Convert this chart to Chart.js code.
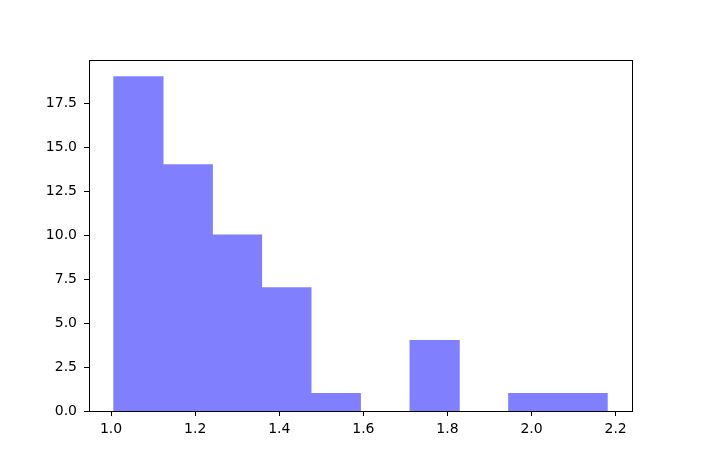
<!DOCTYPE html>
<html>
<head>
<meta charset="utf-8">
<script src="https://cdn.jsdelivr.net/npm/chart.js@4/dist/chart.umd.min.js"></script>
<style>
  html, body { margin: 0; padding: 0; background: #fff; }
  #wrap { width: 706px; height: 474px; }
</style>
</head>
<body>
<div id="wrap"><canvas id="hist" width="706" height="474"></canvas></div>
<script>
// histogram bin edges and counts
const binEdges = [1.006, 1.124, 1.241, 1.358, 1.476, 1.593, 1.711, 1.828, 1.945, 2.063, 2.180];
const counts = [19, 14, 10, 7, 1, 0, 4, 0, 1, 1];
const xTicks = [1.0, 1.2, 1.4, 1.6, 1.8, 2.0, 2.2];
const yTicks = [0, 2.5, 5, 7.5, 10, 12.5, 15, 17.5];

const xMin = 0.9475, xMax = 2.2389;
const yMax = 19.95;

// empty bins get no bar at all (null), like matplotlib
const points = counts.map((c, i) => ({ x: (binEdges[i] + binEdges[i + 1]) / 2, y: c || null }));

// matplotlib draws a full box round the axes
const frame = {
  id: 'frame',
  afterDraw(chart) {
    const { ctx, chartArea: a } = chart;
    ctx.save();
    ctx.strokeStyle = '#000';
    ctx.lineWidth = 1;
    ctx.strokeRect(Math.round(a.left) + 0.5, Math.round(a.top) + 0.5,
      Math.round(a.right - a.left), Math.round(a.bottom - a.top));
    ctx.restore();
  }
};

const tickFont = { family: 'DejaVu Sans', size: 14 };

new Chart(document.getElementById('hist').getContext('2d'), {
  type: 'bar',
  data: {
    datasets: [{
      data: points,
      backgroundColor: '#8080ff',
      borderWidth: 0,
      inflateAmount: 0.5,
      barPercentage: 1,
      categoryPercentage: 1
    }]
  },
  options: {
    responsive: false,
    animation: false,
    devicePixelRatio: 1,
    layout: { padding: { left: 0, top: 60, right: 74, bottom: 10 } },
    plugins: { legend: { display: false }, tooltip: { enabled: false } },
    scales: {
      x: {
        type: 'linear',
        min: xMin,
        max: xMax,
        offset: false,
        grid: { offset: false, drawOnChartArea: false, tickLength: 5, tickColor: '#000', lineWidth: 1 },
        border: { display: false },
        afterBuildTicks(scale) { scale.ticks = xTicks.map(v => ({ value: v })); },
        afterFit(scale) { scale.height = 474 - 411 - 10; },
        ticks: {
          color: '#000',
          font: tickFont,
          padding: 5,
          maxRotation: 0,
          autoSkip: false,
          callback: v => v.toFixed(1)
        }
      },
      y: {
        min: 0,
        max: yMax,
        grid: { drawOnChartArea: false, tickLength: 5, tickColor: '#000', lineWidth: 1 },
        border: { display: false },
        afterBuildTicks(scale) { scale.ticks = yTicks.map(v => ({ value: v })); },
        afterFit(scale) { scale.width = 89; },
        ticks: {
          color: '#000',
          font: tickFont,
          padding: 7,
          callback: v => v.toFixed(1)
        }
      }
    }
  },
  plugins: [frame]
});
</script>
</body>
</html>
